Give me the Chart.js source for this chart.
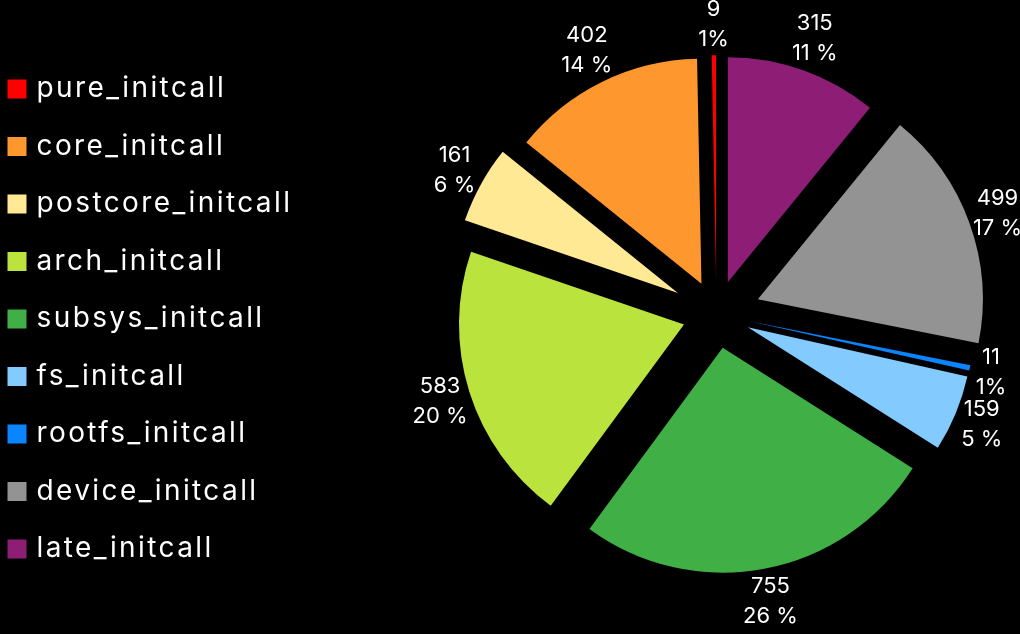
<!DOCTYPE html>
<html>
<head>
<meta charset="utf-8">
<title>initcall time</title>
<script src="https://cdn.jsdelivr.net/npm/chart.js@4.4.1/dist/chart.umd.min.js"></script>
<style>
    html, body { margin: 0; padding: 0; background: #000; overflow: hidden; }
    #wrap { position: absolute; left: -18.5px; top: 0; width: 1148.5px; height: 634px; }
</style>
</head>
<body>
<div id="wrap"><canvas id="initcallChart"></canvas></div>
<script>
// initcall levels, in legend order
const categories = [
    'pure_initcall', 'core_initcall', 'postcore_initcall', 'arch_initcall',
    'subsys_initcall', 'fs_initcall', 'rootfs_initcall', 'device_initcall', 'late_initcall'
];
const initcallValues = [9, 402, 161, 583, 755, 159, 11, 499, 315];
const percentLabels = ['1%', '14 %', '6 %', '20 %', '26 %', '5 %', '1%', '17 %', '11 %'];
const sliceColors = [
    '#ff0000', '#ff972f', '#ffe994', '#bbe33d',
    '#3faf46', '#83caff', '#0a84ff', '#939393', '#8d1d75'
];
// how far each slice is pulled out of the pie (px)
const explodeOffsets = [34, 34, 44, 34, 34, 34, 34, 44, 34];

// slices run clockwise from 12 o'clock starting with late_initcall,
// so the dataset takes the lists back to front
const pieLabels = categories.slice().reverse();
const pieValues = initcallValues.slice().reverse();
const piePercents = percentLabels.slice().reverse();
const pieColors = sliceColors.slice().reverse();
const pieExplode = explodeOffsets.slice().reverse();

const LABEL_GAP = 8;
const LABEL_WIDTH_SHARE = 0.6;

// Chart.js "offset" also grows the radius of thin slices, so move the
// whole wedge instead and keep every slice at the same radius
const ArcEl = Chart.ArcElement || Chart.elements.ArcElement;
const baseArcDraw = ArcEl.prototype.draw;
ArcEl.prototype.draw = function (ctx) {
    const push = this.$explode || 0;
    const mid = (this.startAngle + this.endAngle) / 2;
    ctx.save();
    ctx.translate(Math.cos(mid) * push, Math.sin(mid) * push);
    baseArcDraw.call(this, ctx);
    ctx.restore();
};

const explodePlugin = {
    id: 'explodeSlices',
    beforeLayout(chart) {
        // legend text is set wide in the original
        chart.ctx.letterSpacing = '2.4px';
    },
    beforeDatasetsDraw(chart) {
        chart.getDatasetMeta(0).data.forEach((arc, i) => {
            arc.$explode = pieExplode[i];
        });
    }
};

// value and percentage written outside every slice
const sliceLabelPlugin = {
    id: 'sliceLabels',
    afterDatasetsDraw(chart) {
        const ctx = chart.ctx;
        const arcs = chart.getDatasetMeta(0).data;
        ctx.save();
        ctx.letterSpacing = '0px';
        ctx.font = '22px Inter';
        ctx.fillStyle = '#ffffff';
        ctx.textAlign = 'center';
        ctx.textBaseline = 'middle';
        arcs.forEach((arc, i) => {
            const lines = [String(pieValues[i]), piePercents[i]];
            const halfW = Math.max(...lines.map(t => ctx.measureText(t).width)) / 2;
            const halfH = 23;
            const mid = (arc.startAngle + arc.endAngle) / 2;
            const cos = Math.cos(mid);
            const sin = Math.sin(mid);
            const dist = arc.outerRadius + pieExplode[i] + LABEL_GAP +
                LABEL_WIDTH_SHARE * halfW * Math.abs(cos) + halfH * Math.abs(sin);
            const x = arc.x + cos * dist;
            const y = arc.y + sin * dist;
            ctx.fillText(lines[0], x, y - 15);
            ctx.fillText(lines[1], x, y + 15);
        });
        ctx.restore();
    }
};

document.addEventListener('DOMContentLoaded', function () {
    const ctx = document.getElementById('initcallChart');
    window.initcallChart = new Chart(ctx, {
        type: 'pie',
        data: {
            labels: pieLabels,
            datasets: [{
                data: pieValues,
                backgroundColor: pieColors,
                borderWidth: 0,
                offset: 0,
                hoverOffset: 0
            }]
        },
        options: {
            responsive: true,
            maintainAspectRatio: false,
            animation: false,
            rotation: 0,
            radius: 225,
            layout: {
                padding: { top: 36, bottom: 41.5, left: 0, right: 0 }
            },
            plugins: {
                tooltip: { enabled: false },
                legend: {
                    position: 'left',
                    align: 'end',
                    reverse: true,
                    labels: {
                        color: '#ffffff',
                        font: { family: 'Inter', size: 28 },
                        boxWidth: 11,
                        boxHeight: 11,
                        padding: 29.5,
                        generateLabels: function (chart) {
                            const items = Chart.overrides.pie.plugins.legend.labels.generateLabels(chart);
                            return items.map(item => Object.assign(item, {
                                lineWidth: 8,
                                strokeStyle: item.fillStyle
                            }));
                        }
                    }
                }
            }
        },
        plugins: [explodePlugin, sliceLabelPlugin]
    });
});
</script>
</body>
</html>
